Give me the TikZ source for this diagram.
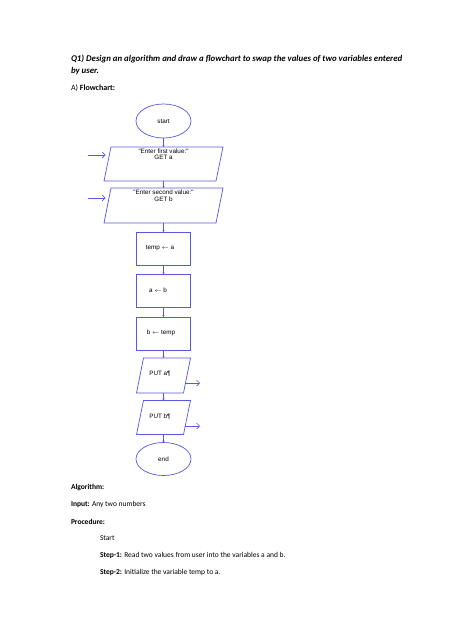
\documentclass[tikz,border=0pt]{standalone}
\usepackage{fontspec}
\setmainfont{Carlito}
\newfontfamily\arialf{Liberation Sans}
\usetikzlibrary{shapes.geometric,arrows.meta}
\definecolor{fc}{RGB}{88,88,228}
\newcommand{\drawpara}[2]{%
  \draw[draw=fc, line width=0.7bp] ([xshift=#2]#1.north west) -- (#1.north east) -- ([xshift=-#2]#1.south east) -- (#1.south west) -- cycle;}
\tikzset{
  every node/.style={inner sep=0pt, outer sep=0pt},
  doc/.style={anchor=west, font=\fontsize{7.5bp}{9bp}\selectfont, text=black},
  ttl/.style={anchor=west, font=\fontsize{8.8bp}{10bp}\selectfont\bfseries\itshape, text=black},
  fcf/.style={font=\arialf\fontsize{6.3bp}{7.3bp}\selectfont},
  term/.style={draw=fc, line width=0.7bp, ellipse, minimum width=55bp, minimum height=34bp, fcf},
  io/.style={rectangle, align=center, fcf},
  proc/.style={draw=fc, line width=0.7bp, rectangle, minimum width=54bp, minimum height=33bp, fcf},
  conn/.style={draw=fc, line width=0.5bp, -{Stealth[length=2.2bp,width=2.2bp]}},
  ioarrow/.style={draw=fc, line width=0.6bp, -{Straight Barb[length=3bp,width=6bp]}}
}
\begin{document}
\begin{tikzpicture}[x=1bp,y=-1bp]
\useasboundingbox (0,0) rectangle (474,632);
% header text
\node[ttl] (t1) at (71,59) {Q1) Design an algorithm and draw a flowchart to swap the values of two variables entered};
\node[ttl] (t2) at (71,71) {by user.};
\node[doc, font=\fontsize{8bp}{9bp}\selectfont] (t3) at (71,88) {A) \textbf{Flowchart:}};
% flowchart
\node[term] (start) at (163.5,121) {start};
\node[io, minimum width=119bp, minimum height=34bp] (in1) at (163.5,164) {};
\drawpara{in1}{7bp}
\node[fcf, align=center, anchor=north] (in1t) at (163.5,148.5) {"Enter first value:"\\[-0.8bp]GET a};
\node[io, minimum width=119bp, minimum height=35bp] (in2) at (163.5,205.5) {};
\drawpara{in2}{7bp}
\node[fcf, align=center, anchor=north] (in2t) at (163.5,190) {"Enter second value:"\\[-0.8bp]GET b};
\node[proc] (p1) at (163.5,248.5) {};
\node[fcf] (p1t) at (160,248) {temp $\leftarrow$ a};
\node[proc] (p2) at (163.5,291) {};
\node[fcf] (p2t) at (158,290.5) {a $\leftarrow$ b};
\node[proc] (p3) at (163.5,333.5) {};
\node[fcf] (p3t) at (161,333) {b $\leftarrow$ temp};
\node[io, minimum width=54bp, minimum height=35bp] (o1) at (163.5,375.5) {};
\drawpara{o1}{7bp}
\node[fcf] (o1t) at (160,374) {PUT a¶};
\node[io, minimum width=54bp, minimum height=34bp] (o2) at (163.5,417.5) {};
\drawpara{o2}{7bp}
\node[fcf] (o2t) at (160,416.5) {PUT b¶};
\node[term, minimum height=33bp] (end) at (163.5,459) {end};
% connectors
\draw[conn] (start) -- (in1);
\draw[conn] (in1) -- (in2);
\draw[conn] (in2) -- (p1);
\draw[conn] (p1) -- (p2);
\draw[conn] (p2) -- (p3);
\draw[conn] (p3) -- (o1);
\draw[conn] (o1) -- (o2);
\draw[conn] (o2) -- (end);
% io arrows
\coordinate (a1) at (88,155);
\coordinate (a2) at (88,198);
\coordinate (b1) at (200,383);
\coordinate (b2) at (200,426);
\coordinate (c1) at (185,383);
\coordinate (c2) at (185,426);
\draw[ioarrow] (a1) -- ([xshift=1.5bp]a1 -| in1.west);
\draw[ioarrow] (a2) -- ([xshift=1.5bp]a2 -| in2.west);
\draw[ioarrow] (c1) -- (b1);
\draw[ioarrow] (c2) -- (b2);
% algorithm text
\node[doc] (al) at (71,487) {\textbf{Algorithm:}};
\node[doc] (inp) at (71,504) {\textbf{Input:} Any two numbers};
\node[doc] (pr) at (71,522) {\textbf{Procedure:}};
\node[doc] (st) at (100,538) {Start};
\node[doc] (s1) at (100,555) {\textbf{Step-1:} Read two values from user into the variables a and b.};
\node[doc] (s2) at (100,572) {\textbf{Step-2:} Initialize the variable temp to a.};
\end{tikzpicture}
\end{document}
